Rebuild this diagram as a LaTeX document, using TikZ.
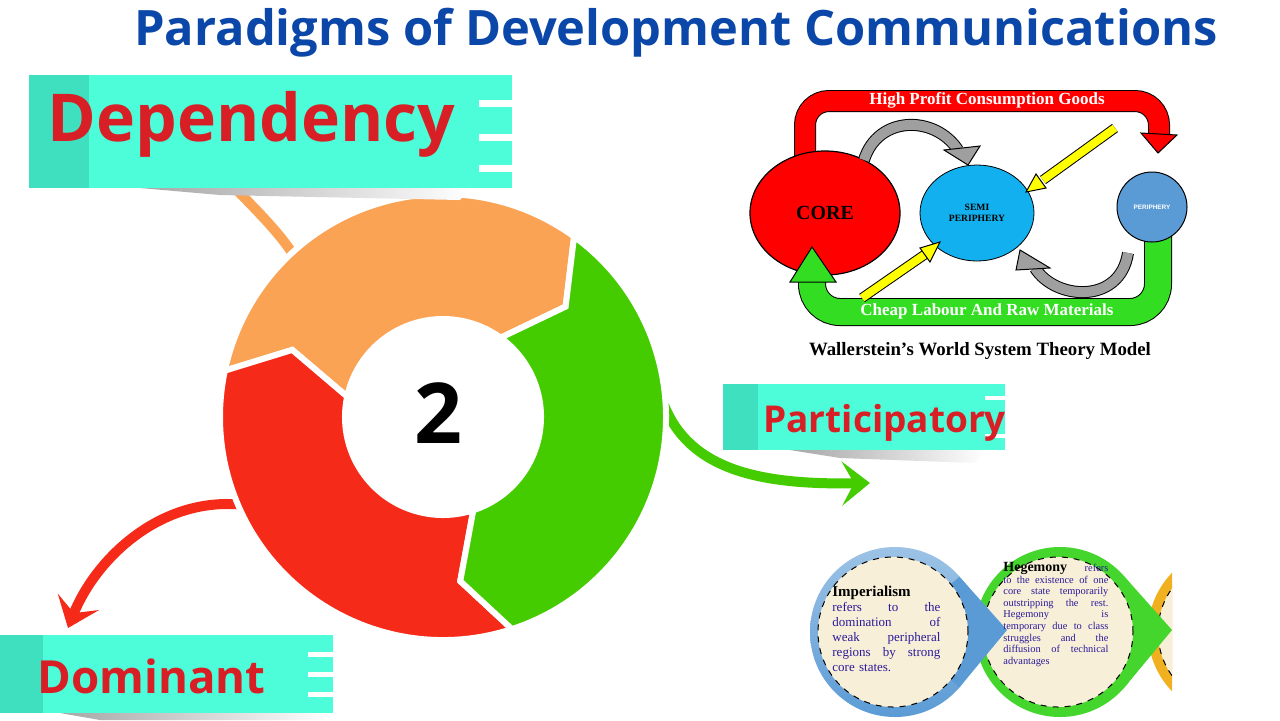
\documentclass[tikz,border=0pt]{standalone}
\usepackage{fontspec}
\setmainfont{Liberation Serif}
\newfontfamily\os{Open Sans}
\newfontfamily\ars{Liberation Sans}
\usetikzlibrary{arrows.meta,shapes.geometric}
\definecolor{titleblue}{HTML}{0A47A8}
\definecolor{bancyan}{HTML}{4DFCD9}
\definecolor{bandark}{HTML}{3EE0C0}
\definecolor{labred}{HTML}{D91F26}
\definecolor{segor}{HTML}{FBA354}
\definecolor{segred}{HTML}{F52A18}
\definecolor{seggr}{HTML}{44CC00}
\definecolor{wred}{HTML}{FF0000}
\definecolor{wsemi}{HTML}{12B0EE}
\definecolor{wper}{HTML}{5B9BD5}
\definecolor{wgreen}{HTML}{33DD22}
\definecolor{wyel}{HTML}{FFFF00}
\definecolor{cream}{HTML}{F8EFD8}
\definecolor{txtblue}{HTML}{2A1A9A}
\definecolor{tblue}{HTML}{5B9BD5}
\definecolor{tgreen}{HTML}{44D62C}
\definecolor{torange}{HTML}{F0B020}
\newcommand\ringseg[3]{%
  \fill[#3,draw=white,line width=3pt,line join=miter] (#1:111.5pt) arc[start angle=#1,end angle=#2,radius=111.5pt] -- (#2-12:82.5pt) -- (#2:49pt) arc[start angle=#2,end angle=#1,radius=49pt] -- (#1-12:82.5pt) -- cycle;}
\newcommand\banner[4]{%
  \fill[bancyan] (#1,-#2) rectangle (#3,-#4);}
\tikzset{
  lab/.style={inner sep=0pt,text=labred,font=\os\bfseries},
  band/.style={draw=black,line width=0.5pt},
  bar/.style={fill=white},
}
\begin{document}
\begin{tikzpicture}[x=0.5pt,y=0.5pt]
\useasboundingbox (0,0) rectangle (1280,-720);
\fill[white] (0,0) rectangle (1280,-720);
% title
\node[inner sep=0pt,anchor=base,text=titleblue,font=\os\bfseries\fontsize{24.4}{26}\selectfont] (title) at (676,-45) {Paradigms of Development Communications};
% connectors behind
\coordinate (depfoot) at (235,-188);
\coordinate (ringtop) at (298,-262);
\draw[segor,line width=5pt] (depfoot) .. controls (258,-212) and (282,-235) .. (ringtop);
\coordinate (ringleft) at (245,-505);
\coordinate (domtip) at (68,-628);
\draw[segred,line width=5pt,-{Stealth[length=14pt,width=22pt,inset=6pt]}] (ringleft) .. controls (160,-495) and (95,-560) .. (domtip);
\coordinate (ringright) at (664,-405);
\coordinate (partip) at (870,-483);
\draw[seggr,line width=5pt,-{Stealth[length=14pt,width=22pt,inset=6pt]}] (ringright) .. controls (690,-470) and (760,-485) .. (partip);
% ring
\begin{scope}[shift={(443,-417)}]
\ringseg{168}{54}{segor}
\ringseg{288}{168}{segred}
\ringseg{414}{288}{seggr}
\end{scope}
\node[inner sep=0pt,font=\os\bfseries\fontsize{42}{42}\selectfont] (two) at (438,-413) {2};
% Dependency banner
\shade[left color=gray!70,right color=white] (140,-188) -- (470,-188) -- (460,-200) -- (220,-195) -- cycle;
\banner{29}{75}{512}{188}
\fill[bandark] (29,-75) rectangle (89,-188);
\fill[bar] (479,-100) rectangle (512,-107);
\fill[bar] (479,-134) rectangle (512,-141);
\fill[bar] (479,-165) rectangle (512,-172);
\node[lab,anchor=base west,font=\os\bfseries\fontsize{33}{33}\selectfont] (dep) at (47,-141) {Dependency};
% Dominant banner
\shade[left color=gray!70,right color=white] (60,-713) -- (330,-713) -- (320,-720) -- (100,-720) -- cycle;
\banner{0}{635}{333}{713}
\fill[bandark] (0,-635) rectangle (43,-713);
\fill[bar] (308,-652) rectangle (333,-657);
\fill[bar] (308,-672) rectangle (333,-677);
\fill[bar] (308,-692) rectangle (333,-697);
\node[lab,anchor=base west,font=\os\bfseries\fontsize{22.8}{22.8}\selectfont] (dom) at (37,-693) {Dominant};
% Participatory banner
\shade[left color=gray!70,right color=white] (790,-450) -- (985,-450) -- (975,-463) -- (840,-458) -- cycle;
\banner{723}{384}{1005}{450}
\fill[bandark] (723,-384) rectangle (758,-450);
\fill[bar] (985,-396) rectangle (1005,-400);
\fill[bar] (985,-434) rectangle (1005,-438);
\node[lab,anchor=base west,font=\os\bfseries\fontsize{18.5}{18.5}\selectfont] (par) at (763,-432) {Participatory};
% Wallerstein model
\draw[band,double=wred,double distance=10pt,rounded corners=12pt] (805,-160) -- (805,-101) -- (1159,-101) -- (1159,-136);
\fill[wred,draw=black,line width=0.5pt] (1141,-133) -- (1177,-135) -- (1158,-153) -- cycle;
\draw[band,double=wgreen,double distance=13pt,rounded corners=14pt] (1158,-235) -- (1158,-312) -- (812,-312) -- (812,-281);
\node[inner sep=0pt,text=white,font=\bfseries\fontsize{8.5}{9}\selectfont] (hp) at (987,-100) {High Profit Consumption Goods};
\node[inner sep=0pt,text=white,font=\bfseries\fontsize{8.5}{9}\selectfont] (cl) at (987,-311) {Cheap Labour And Raw Materials};
\node[ellipse,draw=black,line width=0.6pt,fill=wred,minimum width=75pt,minimum height=62pt,inner sep=0pt,font=\bfseries\fontsize{10}{10}\selectfont] (core) at (825,-213) {CORE};
\fill[wgreen,draw=black,line width=0.5pt] (790,-282) -- (836,-282) -- (812,-247) -- cycle;
\node[ellipse,draw=black,line width=0.4pt,fill=wsemi,minimum width=57pt,minimum height=48pt,inner sep=0pt,align=center,font=\bfseries\fontsize{4.8}{5.5}\selectfont] (semi) at (977,-213) {SEMI\\PERIPHERY};
\node[circle,draw=black,line width=0.5pt,fill=wper,minimum size=35pt,inner sep=0pt,text=white,font=\ars\bfseries\fontsize{3.2}{3.5}\selectfont] (per) at (1152,-207) {PERIPHERY};
% grey arcs
\draw[band,double=gray!75,double distance=5pt] (864,-160) .. controls (878,-115) and (935,-115) .. (958,-150);
\fill[gray!75,draw=black,line width=0.5pt] (944,-150) -- (980,-146) -- (968,-165) -- cycle;
\draw[band,double=gray!75,double distance=5pt] (1128,-253) .. controls (1120,-305) and (1055,-300) .. (1035,-268);
\fill[gray!75,draw=black,line width=0.5pt] (1016,-270) -- (1050,-268) -- (1020,-250) -- cycle;
% yellow arrows
\draw[band,double=wyel,double distance=4pt] (1115,-128) -- (1043,-180);
\fill[wyel,draw=black,line width=0.5pt] (1046,-188) -- (1036,-174) -- (1026,-192) -- cycle;
\draw[band,double=wyel,double distance=4pt] (862,-298) -- (927,-253);
\fill[wyel,draw=black,line width=0.5pt] (930,-262) -- (920,-248) -- (940,-242) -- cycle;
\node[inner sep=0pt,font=\bfseries\fontsize{9.4}{10}\selectfont] (cap) at (980,-351) {Wallerstein’s World System Theory Model};
% bottom-right teardrops
\begin{scope}
\clip (780,-520) rectangle (1172,-720);
\fill[torange] (1233,-632) circle (42.5pt);
\fill[cream,draw=black,dashed,line width=0.5pt] (1233,-632) circle (37.5pt);
\fill[tgreen] (1060,-632) circle (42.5pt);
\fill[tgreen] (1172,-630) -- (1124.5,-576.7) -- (1060,-632) -- (1124.5,-687.3) -- cycle;
\fill[cream,draw=black,dashed,line width=0.5pt] (1058,-632) circle (37.5pt);
\shade[top color=tblue!60,bottom color=tblue] (895,-632) circle (42.5pt);
\fill[tblue] (1007,-630) -- (959.5,-576.7) -- (895,-632) -- (959.5,-687.3) -- cycle;
\fill[cream,draw=black,dashed,line width=0.5pt] (893,-632) circle (37.5pt);
\end{scope}
\node[anchor=north west,inner sep=0pt,text width=54pt,align=left,text=txtblue,font=\fontsize{6.5}{7.5}\selectfont] (imp) at (832,-586) {{\color{black}\bfseries\fontsize{7.5}{8}\selectfont Imperialism}\\refers\hfill to\hfill the\\domination\hfill of\\weak\hfill peripheral\\regions\hfill by\hfill strong\\core states.};
\node[anchor=north west,inner sep=0pt,text width=52.5pt,align=left,text=txtblue,font=\fontsize{5.2}{5.8}\selectfont] (heg) at (1003,-562) {{\color{black}\bfseries\fontsize{7}{7}\selectfont Hegemony}\hfill refers\\to\hfill the\hfill existence\hfill of\hfill one\\core\hfill state\hfill temporarily\\outstripping\hfill the\hfill rest.\\Hegemony\hfill is\\temporary\hfill due\hfill to\hfill class\\struggles\hfill and\hfill the\\diffusion\hfill of\hfill technical\\advantages};
\end{tikzpicture}
\end{document}
